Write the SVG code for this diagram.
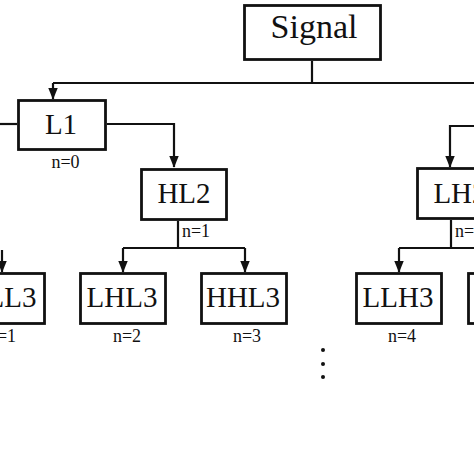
<svg xmlns="http://www.w3.org/2000/svg" width="474" height="474" viewBox="0 0 474 474">
<style>
.box{fill:#fff;stroke:#111;stroke-width:2.8}
.lbl{font-family:"Liberation Serif","Times New Roman",serif;font-size:29px;fill:#111;text-anchor:middle}
.big{font-size:34px}
.n{font-family:"Liberation Serif","Times New Roman",serif;font-size:18px;fill:#111;text-anchor:middle}
.c{fill:none;stroke:#111;stroke-width:2.2}
</style>
<defs>
<marker id="ah" markerUnits="userSpaceOnUse" markerWidth="12" markerHeight="15" refX="6" refY="14" orient="auto-start-reverse" viewBox="0 0 12 15">
<path d="M0,0 L12,0 L6,15 Z" fill="#111" transform="rotate(-90 6 7.5) translate(0 0)"/>
</marker>
<marker id="a" markerUnits="userSpaceOnUse" markerWidth="12" markerHeight="15" refX="14" refY="6" orient="auto" viewBox="0 0 15 12">
<path d="M0,0 L15,6 L0,12 Z" fill="#111"/>
</marker>
</defs>
<rect width="474" height="474" fill="#fff"/>
<g id="connectors">
<path class="c" d="M312,61 V83"/>
<path class="c" d="M53,83 H474"/>
<path class="c" d="M53,83 V99" marker-end="url(#a)"/>
<path class="c" d="M0,124 H17"/>
<path class="c" d="M107,124 H174 V167" marker-end="url(#a)"/>
<path class="c" d="M178,221 V248"/>
<path class="c" d="M123,248 H245"/>
<path class="c" d="M123,248 V272" marker-end="url(#a)"/>
<path class="c" d="M245,248 V272" marker-end="url(#a)"/>
<path class="c" d="M2,250 V272" marker-end="url(#a)"/>
<path class="c" d="M474,126 H450 V167" marker-end="url(#a)"/>
<path class="c" d="M451,220 V248"/>
<path class="c" d="M399,248 H474"/>
<path class="c" d="M399,248 V272" marker-end="url(#a)"/>
</g>
<g id="signal">
<rect class="box" x="244.5" y="5.5" width="136" height="54"/>
<text class="lbl big" x="314" y="38">Signal</text>
</g>
<g id="L1">
<rect class="box" x="18.5" y="100.5" width="87" height="49"/>
<text class="lbl" x="61" y="134">L1</text>
<text class="n" x="65.5" y="168">n=0</text>
</g>
<g id="HL2">
<rect class="box" x="141.5" y="169.5" width="85" height="50"/>
<text class="lbl" x="184" y="203">HL2</text>
<text class="n" x="196" y="237">n=1</text>
</g>
<g id="LH2">
<rect class="box" x="417.5" y="168.5" width="86" height="50"/>
<text class="lbl" x="460" y="203">LH2</text>
<text class="n" x="464.5" y="237">n=</text>
</g>
<g id="HLL3">
<rect class="box" x="-42" y="273.5" width="86.5" height="50"/>
<text class="lbl" x="1" y="307">HLL3</text>
<text class="n" x="2" y="342">n=1</text>
</g>
<g id="LHL3">
<rect class="box" x="80.5" y="273.5" width="85" height="50"/>
<text class="lbl" x="122" y="307">LHL3</text>
<text class="n" x="127" y="342">n=2</text>
</g>
<g id="HHL3">
<rect class="box" x="201.5" y="273.5" width="85" height="50"/>
<text class="lbl" x="243" y="307">HHL3</text>
<text class="n" x="247" y="342">n=3</text>
</g>
<g id="LLH3">
<rect class="box" x="356.5" y="273.5" width="85" height="50"/>
<text class="lbl" x="398" y="307">LLH3</text>
<text class="n" x="402" y="342">n=4</text>
</g>
<g id="HLH3">
<rect class="box" x="468.5" y="273.5" width="85" height="50"/>
</g>
<g id="dots" fill="#111">
<circle cx="323" cy="350" r="2"/>
<circle cx="323" cy="364" r="2"/>
<circle cx="323" cy="377" r="2"/>
</g>
</svg>
